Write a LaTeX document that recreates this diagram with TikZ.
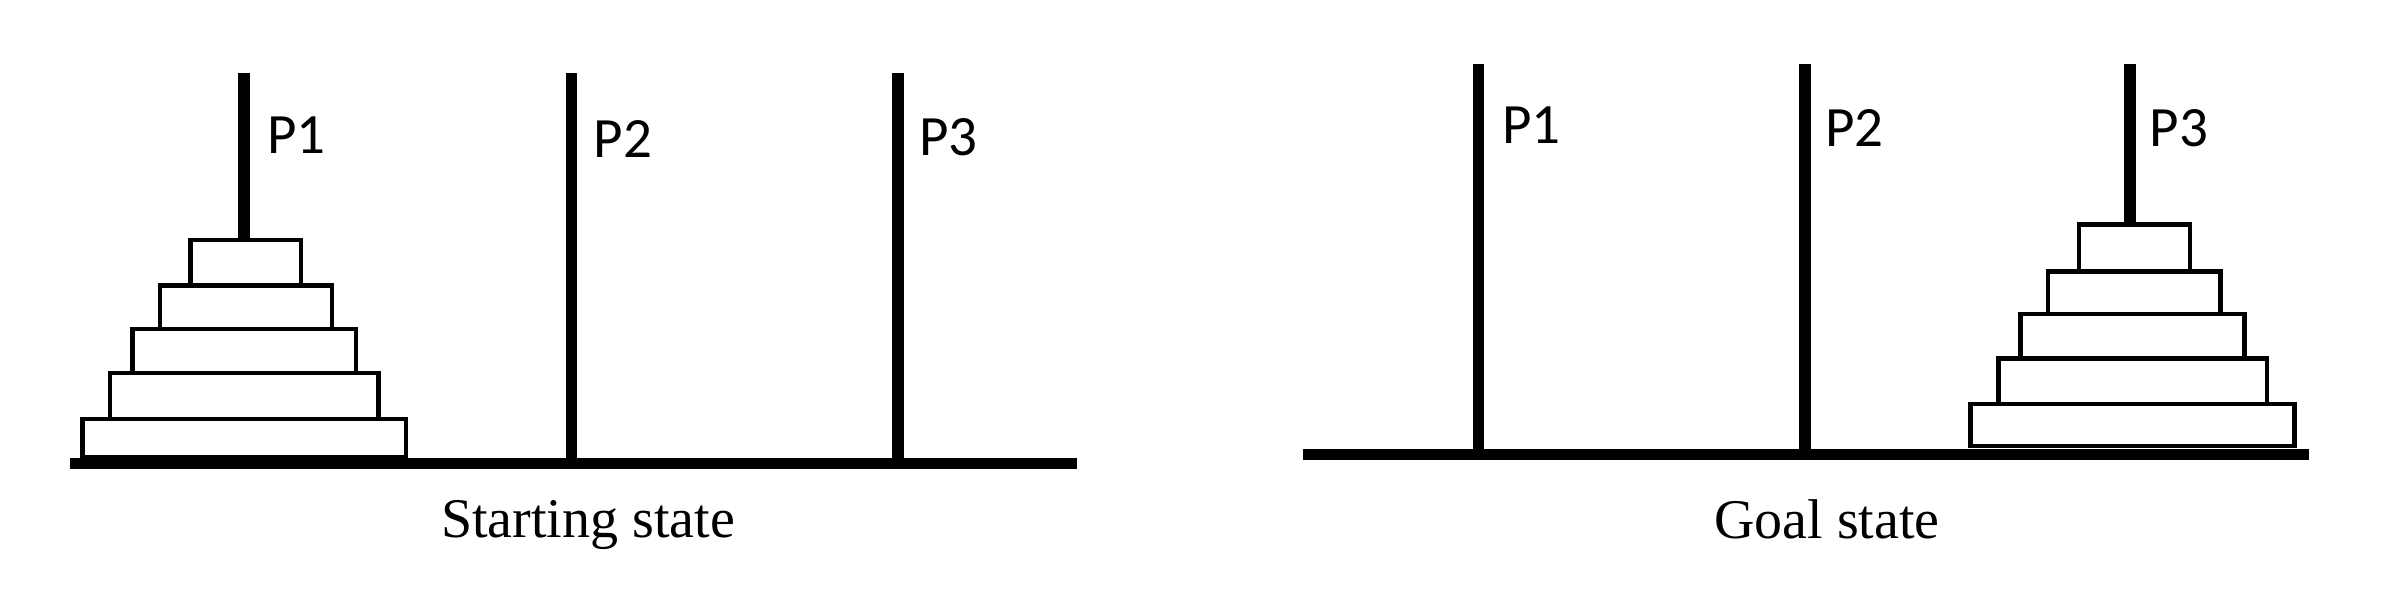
\documentclass[tikz,border=0pt]{standalone}
\usepackage{fontspec}
\setmainfont{Liberation Serif}
\newfontfamily\plabfont{Carlito}
\begin{document}
\begin{tikzpicture}[x=1pt,y=-1pt,
  pole/.style={line width=11.5pt},
  groundline/.style={line width=11pt},
  disk/.style={draw=black,fill=white,line width=4.5pt},
  plab/.style={anchor=base west,inner sep=0pt,font=\plabfont\fontsize{57}{60}\selectfont},
  captext/.style={anchor=base,inner sep=0pt,font=\fontsize{56}{60}\selectfont}]
\useasboundingbox (0,0) rectangle (2393,613);
% ---------- Starting state ----------
\coordinate (LbaseW) at (70,463);
\coordinate (LbaseE) at (1077,463);
\coordinate (LP1top) at (244,73);
\coordinate (LP1bot) at (244,242);
\coordinate (LP2top) at (571.5,73);
\coordinate (LP2bot) at (571.5,463);
\coordinate (LP3top) at (897.8,73);
\coordinate (LP3bot) at (897.8,463);
\draw[pole] (LP1top) -- (LP1bot);
\draw[pole] (LP2top) -- (LP2bot);
\draw[pole] (LP3top) -- (LP3bot);
\draw[disk] (82.3,419) rectangle (406,457);
\draw[disk] (110,373) rectangle (378.5,419);
\draw[disk] (132.3,329) rectangle (356,373);
\draw[disk] (160,285.5) rectangle (332,329);
\draw[disk] (190.5,240) rectangle (301,285.5);
\draw[groundline] (LbaseW) -- (LbaseE);
\node[plab] (lp1) at (266.8,153.3) {P1};
\node[plab] (lp2) at (593.5,157.3) {P2};
\node[plab] (lp3) at (919.2,155) {P3};
\node[captext] (start) at (588,537.3) {Starting state};
% ---------- Goal state ----------
\coordinate (RbaseW) at (1302.7,454);
\coordinate (RbaseE) at (2309.3,454);
\coordinate (RP1top) at (1478.3,64);
\coordinate (RP1bot) at (1478.3,454);
\coordinate (RP2top) at (1805,64);
\coordinate (RP2bot) at (1805,454);
\coordinate (RP3top) at (2130,64);
\coordinate (RP3bot) at (2130,226);
\draw[pole] (RP1top) -- (RP1bot);
\draw[pole] (RP2top) -- (RP2bot);
\draw[pole] (RP3top) -- (RP3bot);
\draw[disk] (1970.5,404) rectangle (2294.5,446);
\draw[disk] (1998.3,358.3) rectangle (2266.8,404);
\draw[disk] (2020.5,314) rectangle (2244.5,358.3);
\draw[disk] (2048,271.3) rectangle (2220.5,314);
\draw[disk] (2079,224.5) rectangle (2190,271.3);
\draw[groundline] (RbaseW) -- (RbaseE);
\node[plab] (rp1) at (1501.8,143.3) {P1};
\node[plab] (rp2) at (1824.8,146.7) {P2};
\node[plab] (rp3) at (2149.5,146) {P3};
\node[captext] (goal) at (1827,538.3) {Goal state};
\end{tikzpicture}
\end{document}
